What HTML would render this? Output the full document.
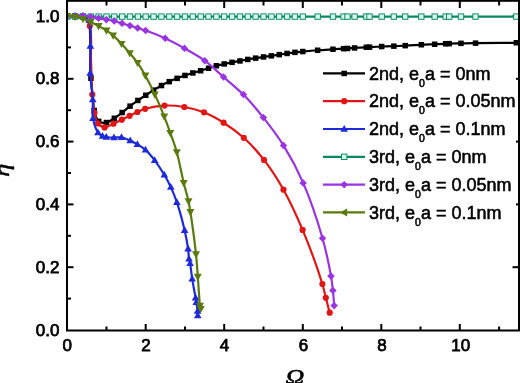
<!DOCTYPE html>
<html><head><meta charset="utf-8"><style>
html,body{margin:0;padding:0;background:#fff;}
body{width:520px;height:383px;overflow:hidden;position:relative;}
svg{position:absolute;left:0;top:0;}
.tk{font-family:"Liberation Sans",Arial,sans-serif;font-size:17px;fill:#000;stroke:#000;stroke-width:0.75px;}
.lg{font-family:"Liberation Sans",Arial,sans-serif;font-size:18px;fill:#000;stroke:#000;stroke-width:0.55px;}
.sub{font-size:10.5px;}
.ax{font-family:"Liberation Serif","Times New Roman",serif;font-style:italic;fill:#000;}
</style></head><body>
<svg width="520" height="383" viewBox="0 0 520 383">
<rect width="520" height="383" fill="#fff"/>
<g>
<rect x="67.0" y="0.8" width="452.0" height="329.7" fill="none" stroke="#000" stroke-width="2"/>
<line x1="106.5" y1="330.5" x2="106.5" y2="326.5" stroke="#000" stroke-width="2"/>
<line x1="106.5" y1="0.8" x2="106.5" y2="5.5" stroke="#000" stroke-width="2"/>
<line x1="145.7" y1="330.5" x2="145.7" y2="324.0" stroke="#000" stroke-width="2"/>
<line x1="145.7" y1="0.8" x2="145.7" y2="8.0" stroke="#000" stroke-width="2"/>
<line x1="185.0" y1="330.5" x2="185.0" y2="326.5" stroke="#000" stroke-width="2"/>
<line x1="185.0" y1="0.8" x2="185.0" y2="5.5" stroke="#000" stroke-width="2"/>
<line x1="224.2" y1="330.5" x2="224.2" y2="324.0" stroke="#000" stroke-width="2"/>
<line x1="224.2" y1="0.8" x2="224.2" y2="8.0" stroke="#000" stroke-width="2"/>
<line x1="263.5" y1="330.5" x2="263.5" y2="326.5" stroke="#000" stroke-width="2"/>
<line x1="263.5" y1="0.8" x2="263.5" y2="5.5" stroke="#000" stroke-width="2"/>
<line x1="302.8" y1="330.5" x2="302.8" y2="324.0" stroke="#000" stroke-width="2"/>
<line x1="302.8" y1="0.8" x2="302.8" y2="8.0" stroke="#000" stroke-width="2"/>
<line x1="342.0" y1="330.5" x2="342.0" y2="326.5" stroke="#000" stroke-width="2"/>
<line x1="342.0" y1="0.8" x2="342.0" y2="5.5" stroke="#000" stroke-width="2"/>
<line x1="381.3" y1="330.5" x2="381.3" y2="324.0" stroke="#000" stroke-width="2"/>
<line x1="381.3" y1="0.8" x2="381.3" y2="8.0" stroke="#000" stroke-width="2"/>
<line x1="420.5" y1="330.5" x2="420.5" y2="326.5" stroke="#000" stroke-width="2"/>
<line x1="420.5" y1="0.8" x2="420.5" y2="5.5" stroke="#000" stroke-width="2"/>
<line x1="459.8" y1="330.5" x2="459.8" y2="324.0" stroke="#000" stroke-width="2"/>
<line x1="459.8" y1="0.8" x2="459.8" y2="8.0" stroke="#000" stroke-width="2"/>
<line x1="499.1" y1="330.5" x2="499.1" y2="326.5" stroke="#000" stroke-width="2"/>
<line x1="499.1" y1="0.8" x2="499.1" y2="5.5" stroke="#000" stroke-width="2"/>
<line x1="67.0" y1="298.6" x2="71.0" y2="298.6" stroke="#000" stroke-width="2"/>
<line x1="67.0" y1="267.2" x2="73.5" y2="267.2" stroke="#000" stroke-width="2"/>
<line x1="519.0" y1="267.2" x2="512.5" y2="267.2" stroke="#000" stroke-width="2"/>
<line x1="67.0" y1="235.8" x2="71.0" y2="235.8" stroke="#000" stroke-width="2"/>
<line x1="67.0" y1="204.4" x2="73.5" y2="204.4" stroke="#000" stroke-width="2"/>
<line x1="519.0" y1="204.4" x2="512.5" y2="204.4" stroke="#000" stroke-width="2"/>
<line x1="67.0" y1="173.0" x2="71.0" y2="173.0" stroke="#000" stroke-width="2"/>
<line x1="67.0" y1="141.6" x2="73.5" y2="141.6" stroke="#000" stroke-width="2"/>
<line x1="519.0" y1="141.6" x2="512.5" y2="141.6" stroke="#000" stroke-width="2"/>
<line x1="67.0" y1="110.2" x2="71.0" y2="110.2" stroke="#000" stroke-width="2"/>
<line x1="67.0" y1="78.8" x2="73.5" y2="78.8" stroke="#000" stroke-width="2"/>
<line x1="519.0" y1="78.8" x2="512.5" y2="78.8" stroke="#000" stroke-width="2"/>
<line x1="67.0" y1="47.4" x2="71.0" y2="47.4" stroke="#000" stroke-width="2"/>
<line x1="67.0" y1="16.0" x2="73.5" y2="16.0" stroke="#000" stroke-width="2"/>
<line x1="519.0" y1="16.0" x2="512.5" y2="16.0" stroke="#000" stroke-width="2"/>
</g>
<defs><clipPath id="pc"><rect x="68" y="1" width="450" height="328.5"/></clipPath></defs>
<g clip-path="url(#pc)">
<path d="M67.20,16.00 C69.80,16.00 72.39,15.97 75.00,16.00 C77.63,16.03 80.47,15.90 82.90,16.20 C85.02,16.46 87.53,16.06 88.80,17.50 C90.62,19.58 89.64,25.24 89.90,30.00 C90.25,36.30 90.24,44.34 90.40,52.00 C90.57,60.38 90.40,70.07 90.90,78.30 C91.34,85.62 92.39,93.11 93.00,99.00 C93.45,103.39 93.27,106.79 94.20,110.50 C95.13,114.23 96.21,119.39 98.61,121.30 C100.59,122.89 103.92,123.04 106.46,122.60 C109.16,122.13 111.74,119.87 114.31,118.23 C116.98,116.53 119.58,114.54 122.16,112.55 C124.81,110.51 127.37,108.14 130.02,106.11 C132.60,104.13 135.24,102.31 137.87,100.48 C140.47,98.68 143.09,96.94 145.72,95.22 C148.33,93.51 150.94,91.82 153.57,90.19 C156.18,88.59 158.78,86.97 161.42,85.53 C164.02,84.12 166.64,82.82 169.28,81.62 C171.87,80.43 174.50,79.38 177.13,78.35 C179.74,77.32 182.35,76.34 184.98,75.44 C187.59,74.54 190.21,73.72 192.83,72.93 C195.44,72.15 198.07,71.53 200.68,70.74 C203.31,69.96 205.92,69.06 208.54,68.22 C211.15,67.39 213.76,66.47 216.39,65.75 C218.99,65.04 221.62,64.52 224.24,63.95 C226.85,63.38 229.47,62.84 232.09,62.34 C234.71,61.85 237.33,61.44 239.94,60.95 C242.56,60.47 245.18,59.91 247.80,59.45 C250.41,58.98 253.03,58.58 255.65,58.16 C258.26,57.75 260.88,57.34 263.50,56.96 C266.12,56.57 268.74,56.23 271.35,55.85 C273.97,55.46 276.59,55.05 279.20,54.65 C281.82,54.25 284.44,53.83 287.06,53.45 C289.67,53.07 292.29,52.68 294.91,52.36 C297.52,52.05 299.73,51.85 302.76,51.57 C306.94,51.17 312.67,50.64 317.68,50.26 C322.75,49.87 328.35,49.57 332.99,49.28 C336.85,49.05 340.92,48.83 343.59,48.66 C345.22,48.56 346.02,48.51 347.52,48.41 C349.53,48.29 351.93,48.13 354.58,47.96 C358.01,47.76 363.69,47.43 366.36,47.28 C367.74,47.21 368.11,47.19 369.50,47.12 C372.24,46.99 377.62,46.73 381.67,46.58 C385.73,46.42 389.85,46.34 393.84,46.19 C397.70,46.04 401.11,45.88 405.23,45.67 C410.13,45.42 416.21,45.02 421.33,44.78 C425.98,44.56 430.44,44.44 434.67,44.27 C438.52,44.12 443.01,43.90 445.67,43.80 C447.17,43.74 447.68,43.72 449.20,43.68 C451.98,43.60 456.85,43.47 460.98,43.39 C465.57,43.30 469.44,43.26 475.50,43.19 C485.67,43.08 502.72,42.93 516.33,42.79" fill="none" stroke="#000" stroke-width="2.2" stroke-linejoin="round"/>
<rect x="64.5" y="13.2" width="5.5" height="5.5" fill="#000"/>
<rect x="72.2" y="13.2" width="5.5" height="5.5" fill="#000"/>
<rect x="80.2" y="13.4" width="5.5" height="5.5" fill="#000"/>
<rect x="86.0" y="14.8" width="5.5" height="5.5" fill="#000"/>
<rect x="88.2" y="75.5" width="5.5" height="5.5" fill="#000"/>
<rect x="91.5" y="107.8" width="5.5" height="5.5" fill="#000"/>
<rect x="95.9" y="118.6" width="5.5" height="5.5" fill="#000"/>
<rect x="103.7" y="119.8" width="5.5" height="5.5" fill="#000"/>
<rect x="111.6" y="115.5" width="5.5" height="5.5" fill="#000"/>
<rect x="119.4" y="109.8" width="5.5" height="5.5" fill="#000"/>
<rect x="127.3" y="103.4" width="5.5" height="5.5" fill="#000"/>
<rect x="135.1" y="97.7" width="5.5" height="5.5" fill="#000"/>
<rect x="143.0" y="92.5" width="5.5" height="5.5" fill="#000"/>
<rect x="150.8" y="87.4" width="5.5" height="5.5" fill="#000"/>
<rect x="158.7" y="82.8" width="5.5" height="5.5" fill="#000"/>
<rect x="166.5" y="78.9" width="5.5" height="5.5" fill="#000"/>
<rect x="174.4" y="75.6" width="5.5" height="5.5" fill="#000"/>
<rect x="182.2" y="72.7" width="5.5" height="5.5" fill="#000"/>
<rect x="190.1" y="70.2" width="5.5" height="5.5" fill="#000"/>
<rect x="197.9" y="68.0" width="5.5" height="5.5" fill="#000"/>
<rect x="205.8" y="65.5" width="5.5" height="5.5" fill="#000"/>
<rect x="213.6" y="63.0" width="5.5" height="5.5" fill="#000"/>
<rect x="221.5" y="61.2" width="5.5" height="5.5" fill="#000"/>
<rect x="229.3" y="59.6" width="5.5" height="5.5" fill="#000"/>
<rect x="237.2" y="58.2" width="5.5" height="5.5" fill="#000"/>
<rect x="245.0" y="56.7" width="5.5" height="5.5" fill="#000"/>
<rect x="252.9" y="55.4" width="5.5" height="5.5" fill="#000"/>
<rect x="260.8" y="54.2" width="5.5" height="5.5" fill="#000"/>
<rect x="268.6" y="53.1" width="5.5" height="5.5" fill="#000"/>
<rect x="276.5" y="51.9" width="5.5" height="5.5" fill="#000"/>
<rect x="284.3" y="50.7" width="5.5" height="5.5" fill="#000"/>
<rect x="292.2" y="49.6" width="5.5" height="5.5" fill="#000"/>
<rect x="300.0" y="48.8" width="5.5" height="5.5" fill="#000"/>
<rect x="314.9" y="47.5" width="5.5" height="5.5" fill="#000"/>
<rect x="330.2" y="46.5" width="5.5" height="5.5" fill="#000"/>
<rect x="340.8" y="45.9" width="5.5" height="5.5" fill="#000"/>
<rect x="344.8" y="45.7" width="5.5" height="5.5" fill="#000"/>
<rect x="351.8" y="45.2" width="5.5" height="5.5" fill="#000"/>
<rect x="363.6" y="44.5" width="5.5" height="5.5" fill="#000"/>
<rect x="366.8" y="44.4" width="5.5" height="5.5" fill="#000"/>
<rect x="378.9" y="43.8" width="5.5" height="5.5" fill="#000"/>
<rect x="391.1" y="43.4" width="5.5" height="5.5" fill="#000"/>
<rect x="402.5" y="42.9" width="5.5" height="5.5" fill="#000"/>
<rect x="418.6" y="42.0" width="5.5" height="5.5" fill="#000"/>
<rect x="431.9" y="41.5" width="5.5" height="5.5" fill="#000"/>
<rect x="442.9" y="41.0" width="5.5" height="5.5" fill="#000"/>
<rect x="446.4" y="40.9" width="5.5" height="5.5" fill="#000"/>
<rect x="458.2" y="40.6" width="5.5" height="5.5" fill="#000"/>
<rect x="472.8" y="40.4" width="5.5" height="5.5" fill="#000"/>
<rect x="513.6" y="40.0" width="5.5" height="5.5" fill="#000"/>
<path d="M67.20,16.00 C69.80,16.00 72.39,15.97 75.00,16.00 C77.63,16.03 80.61,14.97 82.90,16.20 C85.73,17.72 88.27,21.51 89.80,26.10 C92.36,33.79 90.59,48.64 91.00,60.00 C91.42,71.47 91.53,84.92 92.30,94.60 C92.86,101.65 93.34,107.58 94.50,112.80 C95.41,116.89 96.01,121.02 98.00,123.50 C99.64,125.54 102.19,127.23 104.60,127.40 C107.30,127.59 110.60,125.00 113.50,123.70 C116.33,122.43 119.08,121.03 121.80,119.70 C124.45,118.40 127.00,117.08 129.60,115.80 C132.20,114.52 134.78,113.17 137.40,112.00 C139.98,110.84 141.96,109.72 145.20,108.80 C150.14,107.40 158.01,105.90 164.50,105.60 C171.04,105.29 177.76,105.90 184.30,107.00 C190.93,108.12 197.58,109.77 204.00,112.30 C210.69,114.94 217.17,118.63 223.60,122.70 C230.45,127.04 237.33,131.94 243.80,137.80 C250.85,144.19 257.64,151.70 264.00,159.90 C270.94,168.84 277.38,178.80 283.50,189.70 C290.34,201.89 296.50,215.35 302.60,229.90 C309.54,246.45 318.69,271.83 322.40,284.00 C324.25,290.05 324.61,293.12 325.80,297.80 C327.04,302.68 328.40,307.73 329.70,312.70" fill="none" stroke="#e01515" stroke-width="2.2" stroke-linejoin="round"/>
<circle cx="67.2" cy="16.0" r="3.1" fill="#e01515"/>
<circle cx="75.0" cy="16.0" r="3.1" fill="#e01515"/>
<circle cx="82.9" cy="16.2" r="3.1" fill="#e01515"/>
<circle cx="89.8" cy="26.1" r="3.1" fill="#e01515"/>
<circle cx="92.3" cy="94.6" r="3.1" fill="#e01515"/>
<circle cx="94.5" cy="112.8" r="3.1" fill="#e01515"/>
<circle cx="98.0" cy="123.5" r="3.1" fill="#e01515"/>
<circle cx="104.6" cy="127.4" r="3.1" fill="#e01515"/>
<circle cx="113.5" cy="123.7" r="3.1" fill="#e01515"/>
<circle cx="121.8" cy="119.7" r="3.1" fill="#e01515"/>
<circle cx="129.6" cy="115.8" r="3.1" fill="#e01515"/>
<circle cx="137.4" cy="112.0" r="3.1" fill="#e01515"/>
<circle cx="145.2" cy="108.8" r="3.1" fill="#e01515"/>
<circle cx="164.5" cy="105.6" r="3.1" fill="#e01515"/>
<circle cx="184.3" cy="107.0" r="3.1" fill="#e01515"/>
<circle cx="204.0" cy="112.3" r="3.1" fill="#e01515"/>
<circle cx="223.6" cy="122.7" r="3.1" fill="#e01515"/>
<circle cx="243.8" cy="137.8" r="3.1" fill="#e01515"/>
<circle cx="264.0" cy="159.9" r="3.1" fill="#e01515"/>
<circle cx="283.5" cy="189.7" r="3.1" fill="#e01515"/>
<circle cx="302.6" cy="229.9" r="3.1" fill="#e01515"/>
<circle cx="322.4" cy="284.0" r="3.1" fill="#e01515"/>
<circle cx="325.8" cy="297.8" r="3.1" fill="#e01515"/>
<circle cx="329.7" cy="312.7" r="3.1" fill="#e01515"/>
<path d="M67.20,16.00 C69.80,16.00 72.39,15.97 75.00,16.00 C77.63,16.03 80.52,15.49 82.90,16.20 C85.17,16.88 87.58,17.60 89.00,20.00 C91.70,24.57 90.20,37.25 90.40,46.00 C90.61,54.91 89.80,64.04 90.20,73.00 C90.60,81.91 92.36,91.49 92.80,99.60 C93.17,106.40 91.98,112.66 93.00,118.40 C93.91,123.52 95.87,129.51 98.00,132.50 C99.32,134.36 100.98,135.36 102.50,136.10 C103.75,136.71 104.80,136.77 106.30,137.00 C108.41,137.33 111.45,137.53 114.00,137.60 C116.51,137.66 118.95,136.98 121.50,137.40 C124.34,137.87 127.48,139.39 130.20,140.60 C132.75,141.74 134.97,142.95 137.40,144.40 C140.06,145.98 142.86,147.49 145.50,149.80 C148.66,152.57 151.73,156.41 154.70,160.30 C158.02,164.64 161.51,170.10 164.30,174.80 C166.80,179.01 168.78,182.72 170.80,187.10 C173.00,191.87 174.91,196.48 176.90,202.40 C179.54,210.23 182.66,221.81 184.60,230.20 C186.18,237.01 187.37,243.63 188.10,248.90 C188.63,252.71 188.56,256.16 189.00,258.80 C189.30,260.61 189.73,261.34 190.10,263.30 C190.78,266.92 191.35,273.46 192.20,278.90 C193.14,284.91 194.90,293.70 195.60,297.80 C195.93,299.78 196.04,300.48 196.30,302.20 C196.67,304.63 197.36,308.53 197.60,311.00 C197.77,312.77 197.73,314.07 197.80,315.60" fill="none" stroke="#1e2ad8" stroke-width="2.2" stroke-linejoin="round"/>
<polygon points="67.2,11.9 71.0,18.7 63.4,18.7" fill="#1e2ad8"/>
<polygon points="75.0,11.9 78.8,18.7 71.2,18.7" fill="#1e2ad8"/>
<polygon points="82.9,12.1 86.7,18.9 79.1,18.9" fill="#1e2ad8"/>
<polygon points="89.0,15.9 92.8,22.7 85.2,22.7" fill="#1e2ad8"/>
<polygon points="90.4,41.9 94.2,48.7 86.6,48.7" fill="#1e2ad8"/>
<polygon points="90.2,68.9 94.0,75.7 86.4,75.7" fill="#1e2ad8"/>
<polygon points="92.8,95.5 96.6,102.3 89.0,102.3" fill="#1e2ad8"/>
<polygon points="93.0,114.3 96.8,121.1 89.2,121.1" fill="#1e2ad8"/>
<polygon points="98.0,128.4 101.8,135.2 94.2,135.2" fill="#1e2ad8"/>
<polygon points="102.5,132.0 106.3,138.8 98.7,138.8" fill="#1e2ad8"/>
<polygon points="106.3,132.9 110.1,139.7 102.5,139.7" fill="#1e2ad8"/>
<polygon points="114.0,133.5 117.8,140.3 110.2,140.3" fill="#1e2ad8"/>
<polygon points="121.5,133.3 125.3,140.1 117.7,140.1" fill="#1e2ad8"/>
<polygon points="130.2,136.5 134.0,143.3 126.4,143.3" fill="#1e2ad8"/>
<polygon points="137.4,140.3 141.2,147.1 133.6,147.1" fill="#1e2ad8"/>
<polygon points="145.5,145.7 149.3,152.5 141.7,152.5" fill="#1e2ad8"/>
<polygon points="154.7,156.2 158.5,163.0 150.9,163.0" fill="#1e2ad8"/>
<polygon points="164.3,170.7 168.1,177.5 160.5,177.5" fill="#1e2ad8"/>
<polygon points="170.8,183.0 174.6,189.8 167.0,189.8" fill="#1e2ad8"/>
<polygon points="176.9,198.3 180.7,205.1 173.1,205.1" fill="#1e2ad8"/>
<polygon points="184.6,226.1 188.4,232.9 180.8,232.9" fill="#1e2ad8"/>
<polygon points="188.1,244.8 191.9,251.6 184.3,251.6" fill="#1e2ad8"/>
<polygon points="189.0,254.7 192.8,261.5 185.2,261.5" fill="#1e2ad8"/>
<polygon points="190.1,259.2 193.9,266.0 186.3,266.0" fill="#1e2ad8"/>
<polygon points="192.2,274.8 196.0,281.6 188.4,281.6" fill="#1e2ad8"/>
<polygon points="195.6,293.7 199.4,300.5 191.8,300.5" fill="#1e2ad8"/>
<polygon points="196.3,298.1 200.1,304.9 192.5,304.9" fill="#1e2ad8"/>
<polygon points="197.6,306.9 201.4,313.7 193.8,313.7" fill="#1e2ad8"/>
<polygon points="197.8,311.5 201.6,318.3 194.0,318.3" fill="#1e2ad8"/>
<path d="M67.20,16.60 C69.82,16.60 72.43,16.60 75.05,16.60 C77.67,16.60 80.29,16.60 82.90,16.60 C85.52,16.60 88.14,16.60 90.76,16.60 C93.37,16.60 95.99,16.60 98.61,16.60 C101.23,16.60 103.84,16.60 106.46,16.60 C109.08,16.60 111.69,16.60 114.31,16.60 C116.93,16.60 119.55,16.60 122.16,16.60 C124.78,16.60 127.40,16.60 130.02,16.60 C132.63,16.60 135.25,16.60 137.87,16.60 C140.49,16.60 143.10,16.60 145.72,16.60 C148.34,16.60 150.95,16.60 153.57,16.60 C156.19,16.60 158.81,16.60 161.42,16.60 C164.04,16.60 166.66,16.60 169.28,16.60 C171.89,16.60 174.51,16.60 177.13,16.60 C179.75,16.60 182.36,16.60 184.98,16.60 C187.60,16.60 190.21,16.60 192.83,16.60 C195.45,16.60 198.07,16.60 200.68,16.60 C203.30,16.60 205.92,16.60 208.54,16.60 C211.15,16.60 213.77,16.60 216.39,16.60 C219.01,16.60 221.62,16.60 224.24,16.60 C226.86,16.60 229.47,16.60 232.09,16.60 C234.71,16.60 237.33,16.60 239.94,16.60 C242.56,16.60 245.18,16.60 247.80,16.60 C250.41,16.60 253.03,16.60 255.65,16.60 C258.27,16.60 260.88,16.60 263.50,16.60 C266.12,16.60 268.73,16.60 271.35,16.60 C273.97,16.60 276.59,16.60 279.20,16.60 C281.82,16.60 284.44,16.60 287.06,16.60 C289.67,16.60 292.29,16.60 294.91,16.60 C297.53,16.60 299.73,16.60 302.76,16.60 C306.94,16.60 312.67,16.60 317.68,16.60 C322.75,16.60 328.35,16.60 332.99,16.60 C336.85,16.60 340.92,16.60 343.59,16.60 C345.22,16.60 346.02,16.60 347.52,16.60 C349.53,16.60 351.93,16.60 354.58,16.60 C358.01,16.60 363.69,16.60 366.36,16.60 C367.74,16.60 368.11,16.60 369.50,16.60 C372.24,16.60 377.62,16.60 381.67,16.60 C385.73,16.60 389.85,16.60 393.84,16.60 C397.70,16.60 401.11,16.60 405.23,16.60 C410.13,16.60 416.21,16.60 421.33,16.60 C425.98,16.60 430.44,16.60 434.67,16.60 C438.52,16.60 443.01,16.60 445.67,16.60 C447.17,16.60 447.68,16.60 449.20,16.60 C451.98,16.60 456.85,16.60 460.98,16.60 C465.57,16.60 469.44,16.60 475.50,16.60 C485.67,16.60 502.72,16.60 516.33,16.60" fill="none" stroke="#0a8862" stroke-width="2.2" stroke-linejoin="round"/>
<rect x="64.5" y="13.9" width="5.4" height="5.4" fill="#d4f8ee" stroke="#0a8862" stroke-width="0.95"/>
<rect x="72.4" y="13.9" width="5.4" height="5.4" fill="#d4f8ee" stroke="#0a8862" stroke-width="0.95"/>
<rect x="80.2" y="13.9" width="5.4" height="5.4" fill="#d4f8ee" stroke="#0a8862" stroke-width="0.95"/>
<rect x="88.1" y="13.9" width="5.4" height="5.4" fill="#d4f8ee" stroke="#0a8862" stroke-width="0.95"/>
<rect x="95.9" y="13.9" width="5.4" height="5.4" fill="#d4f8ee" stroke="#0a8862" stroke-width="0.95"/>
<rect x="103.8" y="13.9" width="5.4" height="5.4" fill="#d4f8ee" stroke="#0a8862" stroke-width="0.95"/>
<rect x="111.6" y="13.9" width="5.4" height="5.4" fill="#d4f8ee" stroke="#0a8862" stroke-width="0.95"/>
<rect x="119.5" y="13.9" width="5.4" height="5.4" fill="#d4f8ee" stroke="#0a8862" stroke-width="0.95"/>
<rect x="127.3" y="13.9" width="5.4" height="5.4" fill="#d4f8ee" stroke="#0a8862" stroke-width="0.95"/>
<rect x="135.2" y="13.9" width="5.4" height="5.4" fill="#d4f8ee" stroke="#0a8862" stroke-width="0.95"/>
<rect x="143.0" y="13.9" width="5.4" height="5.4" fill="#d4f8ee" stroke="#0a8862" stroke-width="0.95"/>
<rect x="150.9" y="13.9" width="5.4" height="5.4" fill="#d4f8ee" stroke="#0a8862" stroke-width="0.95"/>
<rect x="158.7" y="13.9" width="5.4" height="5.4" fill="#d4f8ee" stroke="#0a8862" stroke-width="0.95"/>
<rect x="166.6" y="13.9" width="5.4" height="5.4" fill="#d4f8ee" stroke="#0a8862" stroke-width="0.95"/>
<rect x="174.4" y="13.9" width="5.4" height="5.4" fill="#d4f8ee" stroke="#0a8862" stroke-width="0.95"/>
<rect x="182.3" y="13.9" width="5.4" height="5.4" fill="#d4f8ee" stroke="#0a8862" stroke-width="0.95"/>
<rect x="190.1" y="13.9" width="5.4" height="5.4" fill="#d4f8ee" stroke="#0a8862" stroke-width="0.95"/>
<rect x="198.0" y="13.9" width="5.4" height="5.4" fill="#d4f8ee" stroke="#0a8862" stroke-width="0.95"/>
<rect x="205.8" y="13.9" width="5.4" height="5.4" fill="#d4f8ee" stroke="#0a8862" stroke-width="0.95"/>
<rect x="213.7" y="13.9" width="5.4" height="5.4" fill="#d4f8ee" stroke="#0a8862" stroke-width="0.95"/>
<rect x="221.5" y="13.9" width="5.4" height="5.4" fill="#d4f8ee" stroke="#0a8862" stroke-width="0.95"/>
<rect x="229.4" y="13.9" width="5.4" height="5.4" fill="#d4f8ee" stroke="#0a8862" stroke-width="0.95"/>
<rect x="237.2" y="13.9" width="5.4" height="5.4" fill="#d4f8ee" stroke="#0a8862" stroke-width="0.95"/>
<rect x="245.1" y="13.9" width="5.4" height="5.4" fill="#d4f8ee" stroke="#0a8862" stroke-width="0.95"/>
<rect x="252.9" y="13.9" width="5.4" height="5.4" fill="#d4f8ee" stroke="#0a8862" stroke-width="0.95"/>
<rect x="260.8" y="13.9" width="5.4" height="5.4" fill="#d4f8ee" stroke="#0a8862" stroke-width="0.95"/>
<rect x="268.7" y="13.9" width="5.4" height="5.4" fill="#d4f8ee" stroke="#0a8862" stroke-width="0.95"/>
<rect x="276.5" y="13.9" width="5.4" height="5.4" fill="#d4f8ee" stroke="#0a8862" stroke-width="0.95"/>
<rect x="284.4" y="13.9" width="5.4" height="5.4" fill="#d4f8ee" stroke="#0a8862" stroke-width="0.95"/>
<rect x="292.2" y="13.9" width="5.4" height="5.4" fill="#d4f8ee" stroke="#0a8862" stroke-width="0.95"/>
<rect x="300.1" y="13.9" width="5.4" height="5.4" fill="#d4f8ee" stroke="#0a8862" stroke-width="0.95"/>
<rect x="315.0" y="13.9" width="5.4" height="5.4" fill="#d4f8ee" stroke="#0a8862" stroke-width="0.95"/>
<rect x="330.3" y="13.9" width="5.4" height="5.4" fill="#d4f8ee" stroke="#0a8862" stroke-width="0.95"/>
<rect x="340.9" y="13.9" width="5.4" height="5.4" fill="#d4f8ee" stroke="#0a8862" stroke-width="0.95"/>
<rect x="344.8" y="13.9" width="5.4" height="5.4" fill="#d4f8ee" stroke="#0a8862" stroke-width="0.95"/>
<rect x="351.9" y="13.9" width="5.4" height="5.4" fill="#d4f8ee" stroke="#0a8862" stroke-width="0.95"/>
<rect x="363.7" y="13.9" width="5.4" height="5.4" fill="#d4f8ee" stroke="#0a8862" stroke-width="0.95"/>
<rect x="366.8" y="13.9" width="5.4" height="5.4" fill="#d4f8ee" stroke="#0a8862" stroke-width="0.95"/>
<rect x="379.0" y="13.9" width="5.4" height="5.4" fill="#d4f8ee" stroke="#0a8862" stroke-width="0.95"/>
<rect x="391.1" y="13.9" width="5.4" height="5.4" fill="#d4f8ee" stroke="#0a8862" stroke-width="0.95"/>
<rect x="402.5" y="13.9" width="5.4" height="5.4" fill="#d4f8ee" stroke="#0a8862" stroke-width="0.95"/>
<rect x="418.6" y="13.9" width="5.4" height="5.4" fill="#d4f8ee" stroke="#0a8862" stroke-width="0.95"/>
<rect x="432.0" y="13.9" width="5.4" height="5.4" fill="#d4f8ee" stroke="#0a8862" stroke-width="0.95"/>
<rect x="443.0" y="13.9" width="5.4" height="5.4" fill="#d4f8ee" stroke="#0a8862" stroke-width="0.95"/>
<rect x="446.5" y="13.9" width="5.4" height="5.4" fill="#d4f8ee" stroke="#0a8862" stroke-width="0.95"/>
<rect x="458.3" y="13.9" width="5.4" height="5.4" fill="#d4f8ee" stroke="#0a8862" stroke-width="0.95"/>
<rect x="472.8" y="13.9" width="5.4" height="5.4" fill="#d4f8ee" stroke="#0a8862" stroke-width="0.95"/>
<rect x="513.6" y="13.9" width="5.4" height="5.4" fill="#d4f8ee" stroke="#0a8862" stroke-width="0.95"/>
<path d="M67.20,16.00 C69.80,16.00 72.39,16.02 75.00,16.00 C77.62,15.98 80.28,15.77 82.90,15.90 C85.51,16.03 88.10,16.40 90.70,16.80 C93.33,17.20 95.97,17.83 98.60,18.30 C101.21,18.76 103.80,19.15 106.40,19.60 C109.00,20.05 111.61,20.38 114.20,21.00 C116.84,21.64 119.47,22.63 122.10,23.40 C124.70,24.16 127.30,24.83 129.90,25.60 C132.50,26.37 135.09,27.19 137.70,28.00 C140.33,28.82 142.40,29.36 145.60,30.50 C150.70,32.32 158.77,35.35 165.20,38.30 C171.74,41.30 178.04,44.76 184.50,48.40 C191.24,52.20 198.36,56.00 204.80,60.70 C211.38,65.51 217.18,71.45 223.50,77.00 C230.04,82.74 236.96,88.11 243.40,94.60 C250.29,101.55 256.90,109.42 263.40,117.60 C270.29,126.28 277.17,135.19 283.50,145.40 C290.53,156.74 297.14,168.93 303.20,182.90 C310.33,199.34 317.69,221.47 322.50,238.30 C326.41,251.98 329.28,266.45 331.00,276.10 C332.05,282.01 332.37,285.64 332.90,290.50 C333.44,295.47 333.77,300.57 334.20,305.60" fill="none" stroke="#9a33e0" stroke-width="2.2" stroke-linejoin="round"/>
<polygon points="67.2,12.2 71.0,16.0 67.2,19.8 63.5,16.0" fill="#9a33e0"/>
<polygon points="75.0,12.2 78.8,16.0 75.0,19.8 71.2,16.0" fill="#9a33e0"/>
<polygon points="82.9,12.2 86.7,15.9 82.9,19.6 79.2,15.9" fill="#9a33e0"/>
<polygon points="90.7,13.1 94.5,16.8 90.7,20.6 87.0,16.8" fill="#9a33e0"/>
<polygon points="98.6,14.6 102.3,18.3 98.6,22.1 94.8,18.3" fill="#9a33e0"/>
<polygon points="106.4,15.9 110.2,19.6 106.4,23.4 102.7,19.6" fill="#9a33e0"/>
<polygon points="114.2,17.2 118.0,21.0 114.2,24.8 110.5,21.0" fill="#9a33e0"/>
<polygon points="122.1,19.6 125.8,23.4 122.1,27.1 118.3,23.4" fill="#9a33e0"/>
<polygon points="129.9,21.9 133.7,25.6 129.9,29.4 126.2,25.6" fill="#9a33e0"/>
<polygon points="137.7,24.2 141.4,28.0 137.7,31.8 133.9,28.0" fill="#9a33e0"/>
<polygon points="145.6,26.8 149.3,30.5 145.6,34.2 141.8,30.5" fill="#9a33e0"/>
<polygon points="165.2,34.5 168.9,38.3 165.2,42.0 161.4,38.3" fill="#9a33e0"/>
<polygon points="184.5,44.6 188.2,48.4 184.5,52.1 180.8,48.4" fill="#9a33e0"/>
<polygon points="204.8,57.0 208.6,60.7 204.8,64.5 201.1,60.7" fill="#9a33e0"/>
<polygon points="223.5,73.2 227.2,77.0 223.5,80.8 219.8,77.0" fill="#9a33e0"/>
<polygon points="243.4,90.8 247.2,94.6 243.4,98.3 239.7,94.6" fill="#9a33e0"/>
<polygon points="263.4,113.8 267.1,117.6 263.4,121.3 259.6,117.6" fill="#9a33e0"/>
<polygon points="283.5,141.7 287.2,145.4 283.5,149.2 279.8,145.4" fill="#9a33e0"/>
<polygon points="303.2,179.2 306.9,182.9 303.2,186.7 299.4,182.9" fill="#9a33e0"/>
<polygon points="322.5,234.6 326.2,238.3 322.5,242.1 318.8,238.3" fill="#9a33e0"/>
<polygon points="331.0,272.4 334.8,276.1 331.0,279.9 327.2,276.1" fill="#9a33e0"/>
<polygon points="332.9,286.8 336.6,290.5 332.9,294.2 329.1,290.5" fill="#9a33e0"/>
<polygon points="334.2,301.9 337.9,305.6 334.2,309.4 330.4,305.6" fill="#9a33e0"/>
<path d="M67.20,16.00 C69.80,16.27 72.41,16.34 75.00,16.80 C77.64,17.27 80.30,17.94 82.90,18.80 C85.54,19.67 88.12,20.82 90.70,22.00 C93.35,23.21 95.99,24.60 98.60,26.00 C101.22,27.40 103.95,28.80 106.40,30.40 C108.77,31.94 110.81,33.42 113.10,35.40 C115.83,37.76 118.75,40.88 121.50,43.80 C124.32,46.80 127.11,50.02 129.80,53.20 C132.47,56.36 135.12,59.28 137.60,62.80 C140.31,66.65 142.69,70.79 145.30,75.50 C148.41,81.12 151.74,87.81 154.80,94.40 C158.05,101.41 161.48,109.56 164.20,116.40 C166.54,122.26 168.28,127.17 170.30,132.90 C172.48,139.07 174.77,144.97 176.80,152.20 C179.32,161.17 181.54,173.91 183.70,182.80 C185.38,189.72 187.34,195.86 188.50,201.20 C189.38,205.26 189.66,207.21 190.40,212.00 C191.86,221.44 194.74,242.31 196.00,254.20 C196.92,262.86 197.18,268.73 197.80,276.70 C198.50,285.73 199.30,300.75 200.00,305.60 C200.24,307.26 200.47,307.80 200.70,308.90" fill="none" stroke="#5a7a0e" stroke-width="2.2" stroke-linejoin="round"/>
<polygon points="67.2,20.3 71.2,13.1 63.2,13.1" fill="#5a7a0e"/>
<polygon points="75.0,21.1 79.0,13.9 71.0,13.9" fill="#5a7a0e"/>
<polygon points="82.9,23.1 86.9,15.9 78.9,15.9" fill="#5a7a0e"/>
<polygon points="90.7,26.3 94.7,19.1 86.7,19.1" fill="#5a7a0e"/>
<polygon points="98.6,30.3 102.6,23.1 94.6,23.1" fill="#5a7a0e"/>
<polygon points="106.4,34.7 110.4,27.5 102.4,27.5" fill="#5a7a0e"/>
<polygon points="113.1,39.7 117.1,32.5 109.1,32.5" fill="#5a7a0e"/>
<polygon points="121.5,48.1 125.5,40.9 117.5,40.9" fill="#5a7a0e"/>
<polygon points="129.8,57.5 133.8,50.3 125.8,50.3" fill="#5a7a0e"/>
<polygon points="137.6,67.1 141.6,59.9 133.6,59.9" fill="#5a7a0e"/>
<polygon points="145.3,79.8 149.3,72.6 141.3,72.6" fill="#5a7a0e"/>
<polygon points="154.8,98.7 158.8,91.5 150.8,91.5" fill="#5a7a0e"/>
<polygon points="164.2,120.7 168.2,113.5 160.2,113.5" fill="#5a7a0e"/>
<polygon points="170.3,137.2 174.3,130.0 166.3,130.0" fill="#5a7a0e"/>
<polygon points="176.8,156.5 180.8,149.3 172.8,149.3" fill="#5a7a0e"/>
<polygon points="183.7,187.1 187.7,179.9 179.7,179.9" fill="#5a7a0e"/>
<polygon points="188.5,205.5 192.5,198.3 184.5,198.3" fill="#5a7a0e"/>
<polygon points="190.4,216.3 194.4,209.1 186.4,209.1" fill="#5a7a0e"/>
<polygon points="196.0,258.5 200.0,251.3 192.0,251.3" fill="#5a7a0e"/>
<polygon points="197.8,281.0 201.8,273.8 193.8,273.8" fill="#5a7a0e"/>
<polygon points="200.0,309.9 204.0,302.7 196.0,302.7" fill="#5a7a0e"/>
<polygon points="200.7,313.2 204.7,306.0 196.7,306.0" fill="#5a7a0e"/>
</g>
<g>
<text x="59.5" y="335.6" text-anchor="end" class="tk">0.0</text>
<text x="59.5" y="272.8" text-anchor="end" class="tk">0.2</text>
<text x="59.5" y="210.0" text-anchor="end" class="tk">0.4</text>
<text x="59.5" y="147.2" text-anchor="end" class="tk">0.6</text>
<text x="59.5" y="84.4" text-anchor="end" class="tk">0.8</text>
<text x="59.5" y="21.6" text-anchor="end" class="tk">1.0</text>
<text x="67.2" y="351" text-anchor="middle" class="tk">0</text>
<text x="145.9" y="351" text-anchor="middle" class="tk">2</text>
<text x="224.6" y="351" text-anchor="middle" class="tk">4</text>
<text x="303.4" y="351" text-anchor="middle" class="tk">6</text>
<text x="382.1" y="351" text-anchor="middle" class="tk">8</text>
<text x="460.8" y="351" text-anchor="middle" class="tk">10</text>
</g>
<g>
<rect x="320" y="57" width="196" height="165" fill="#fff"/>
<line x1="323" y1="73.4" x2="365" y2="73.4" stroke="#000" stroke-width="2.2"/>
<rect x="341.4" y="70.7" width="5.5" height="5.5" fill="#000"/>
<text x="369" y="79.6" class="lg">2nd, e<tspan class="sub" dy="7">0</tspan><tspan dy="-7">a = 0nm</tspan></text>
<line x1="323" y1="101.2" x2="365" y2="101.2" stroke="#e01515" stroke-width="2.2"/>
<circle cx="344.2" cy="101.2" r="3.1" fill="#e01515"/>
<text x="369" y="107.4" class="lg">2nd, e<tspan class="sub" dy="7">0</tspan><tspan dy="-7">a = 0.05nm</tspan></text>
<line x1="323" y1="129.0" x2="365" y2="129.0" stroke="#1e2ad8" stroke-width="2.2"/>
<polygon points="344.2,124.9 348.0,131.7 340.4,131.7" fill="#1e2ad8"/>
<text x="369" y="135.2" class="lg">2nd, e<tspan class="sub" dy="7">0</tspan><tspan dy="-7">a = 0.1nm</tspan></text>
<line x1="323" y1="156.8" x2="365" y2="156.8" stroke="#0a8862" stroke-width="2.2"/>
<rect x="341.5" y="154.1" width="5.4" height="5.4" fill="#d4f8ee" stroke="#0a8862" stroke-width="0.95"/>
<text x="369" y="163.0" class="lg">3rd, e<tspan class="sub" dy="7">0</tspan><tspan dy="-7">a = 0nm</tspan></text>
<line x1="323" y1="184.6" x2="365" y2="184.6" stroke="#9a33e0" stroke-width="2.2"/>
<polygon points="344.2,180.9 347.9,184.6 344.2,188.4 340.4,184.6" fill="#9a33e0"/>
<text x="369" y="190.8" class="lg">3rd, e<tspan class="sub" dy="7">0</tspan><tspan dy="-7">a = 0.05nm</tspan></text>
<line x1="323" y1="212.4" x2="365" y2="212.4" stroke="#5a7a0e" stroke-width="2.2"/>
<polygon points="339.9,212.4 347.1,208.4 347.1,216.4" fill="#5a7a0e"/>
<text x="369" y="218.6" class="lg">3rd, e<tspan class="sub" dy="7">0</tspan><tspan dy="-7">a = 0.1nm</tspan></text>
</g>
<text class="ax" transform="translate(285.5,384) scale(1.3,1)" font-size="20" stroke="#000" stroke-width="0.6">Ω</text>
<text class="ax" transform="translate(8.5,177) rotate(-90) scale(1.35,1)" font-size="20" stroke="#000" stroke-width="0.4">η</text>
</svg>
</body></html>
